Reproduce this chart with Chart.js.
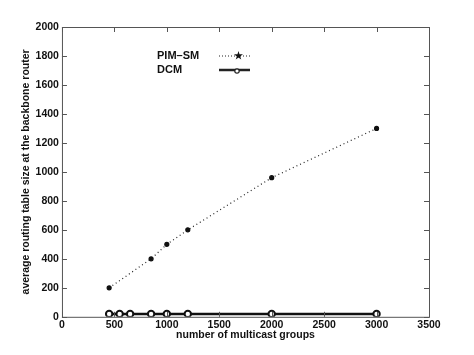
<!DOCTYPE html>
<html>
<head>
<meta charset="utf-8">
<script src="https://cdn.jsdelivr.net/npm/chart.js@4"></script>
<style>
  body { margin: 0; background: #fff; }
  #wrap { width: 474px; height: 355px; }
</style>
</head>
<body>
<div id="wrap"><canvas id="chart"></canvas></div>
<script>
const groups = [450, 550, 650, 850, 1000, 1200, 2000, 3000];
const pimX = [450, 850, 1000, 1200, 2000, 3000];
const pimSM = [200, 400, 500, 600, 960, 1300];
const dcm = [20, 20, 20, 20, 20, 20, 20, 20];
const xTicks = [0, 500, 1000, 1500, 2000, 2500, 3000, 3500];
const yTicks = [0, 200, 400, 600, 800, 1000, 1200, 1400, 1600, 1800, 2000];

const FONT = "'Liberation Sans', Arial, sans-serif";

// matlab style box with inward ticks + legend in the upper left
const matlabBox = {
    id: "matlabBox",
    afterDraw(c) {
        const ctx = c.ctx;
        const a = c.chartArea;
        const x = c.scales.x, y = c.scales.y;
        ctx.save();
        ctx.strokeStyle = "#555";
        ctx.lineWidth = 1;
        ctx.strokeRect(a.left + 0.5, a.top + 0.5, a.right - a.left, a.bottom - a.top);
        ctx.beginPath();
        xTicks.forEach(v => {
            const px = Math.round(x.getPixelForValue(v)) + 0.5;
            ctx.moveTo(px, a.bottom); ctx.lineTo(px, a.bottom - 5);
            ctx.moveTo(px, a.top); ctx.lineTo(px, a.top + 5);
        });
        yTicks.forEach(v => {
            const py = Math.round(y.getPixelForValue(v)) + 0.5;
            ctx.moveTo(a.left, py); ctx.lineTo(a.left + 5, py);
            ctx.moveTo(a.right, py); ctx.lineTo(a.right - 5, py);
        });
        ctx.stroke();

        // legend
        ctx.fillStyle = "#111";
        ctx.font = "bold 11px " + FONT;
        ctx.textBaseline = "middle";
        ctx.fillText("PIM\u2013SM", 157, 56);
        ctx.fillText("DCM", 157, 70);
        ctx.strokeStyle = "#222";
        ctx.lineWidth = 1;
        ctx.setLineDash([1, 2]);
        ctx.beginPath(); ctx.moveTo(219, 56); ctx.lineTo(250, 56); ctx.stroke();
        ctx.setLineDash([]);
        ctx.font = "bold 10px " + FONT;
        ctx.textAlign = "center";
        ctx.fillText("\u2605", 238, 56);
        ctx.lineWidth = 2.5;
        ctx.beginPath(); ctx.moveTo(219, 70); ctx.lineTo(250, 70); ctx.stroke();
        ctx.fillStyle = "#fff";
        ctx.lineWidth = 1.2;
        ctx.beginPath(); ctx.arc(237, 71, 2.2, 0, Math.PI * 2); ctx.fill(); ctx.stroke();
        ctx.restore();
    }
};

new Chart(document.querySelector("#chart").getContext("2d"), {
    type: "line",
    data: {
        datasets: [
            {
                label: "PIM-SM",
                data: pimX.map((v, i) => ({ x: v, y: pimSM[i] })),
                borderColor: "#222",
                borderWidth: 1.2,
                borderDash: [1, 3],
                pointRadius: 2,
                pointBackgroundColor: "#111",
                pointBorderColor: "#111",
                tension: 0
            },
            {
                label: "DCM",
                data: groups.map((v, i) => ({ x: v, y: dcm[i] })),
                borderColor: "#111",
                borderWidth: 2.5,
                pointRadius: 3.2,
                pointBorderWidth: 2,
                pointBackgroundColor: "#fff",
                pointBorderColor: "#111",
                tension: 0
            }
        ]
    },
    options: {
        responsive: true,
        maintainAspectRatio: false,
        animation: false,
        layout: { padding: { top: 27, right: 45, bottom: 14, left: 20 } },
        plugins: { legend: { display: false }, tooltip: { enabled: false } },
        scales: {
            x: {
                type: "linear",
                min: 0, max: 3500,
                afterBuildTicks: s => { s.ticks = xTicks.map(v => ({ value: v })); },
                grid: { display: false, drawTicks: false },
                border: { display: false },
                ticks: { color: "#111", font: { family: FONT, size: 10.5, weight: "bold" }, padding: 2, maxRotation: 0,
                         callback: v => String(v) },
                title: { display: true, text: "number of multicast groups", color: "#111",
                         font: { family: FONT, size: 10.5, weight: "bold" }, padding: { top: -5, bottom: 0 } }
            },
            y: {
                min: 0, max: 2000,
                afterBuildTicks: s => { s.ticks = yTicks.map(v => ({ value: v })); },
                grid: { display: false, drawTicks: false },
                border: { display: false },
                ticks: { color: "#111", font: { family: FONT, size: 10.5, weight: "bold" }, padding: 3,
                         callback: v => String(v) },
                title: { display: true, text: "average routing table size at the backbone router", color: "#111",
                         font: { family: FONT, size: 10.5, weight: "bold" }, padding: { top: 0, bottom: 0 } }
            }
        }
    },
    plugins: [matlabBox]
});
</script>
</body>
</html>
